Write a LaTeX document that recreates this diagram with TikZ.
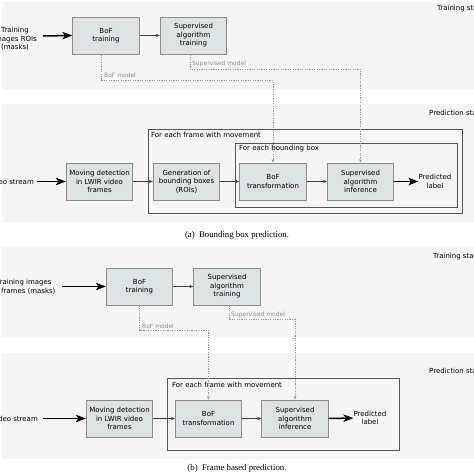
\documentclass[tikz,border=0pt]{standalone}
\usepackage{fontspec}
\setmainfont{DejaVu Sans}
\newfontfamily\capfont{Liberation Serif}
\usetikzlibrary{arrows.meta,calc}
\definecolor{bandgray}{HTML}{F5F5F5}
\definecolor{boxfill}{HTML}{DDE2E2}
\definecolor{boxline}{HTML}{8C8C8C}
\definecolor{frameline}{HTML}{555555}
\definecolor{dashgray}{HTML}{9A9A9A}
\definecolor{labgray}{HTML}{8E8E8E}
\tikzset{
  band/.style={fill=bandgray,draw=none},
  procbox/.style={draw=boxline,fill=boxfill,line width=0.8bp,minimum width=66.5bp,minimum height=37bp,inner sep=1bp,align=center,font=\fontsize{7}{8.6}\selectfont},
  txt/.style={inner sep=0pt,align=center,font=\fontsize{7}{8.8}\selectfont},
  stagelab/.style={inner sep=0pt,anchor=west,font=\fontsize{7}{8.6}\selectfont},
  framebox/.style={draw=frameline,line width=0.9bp},
  framelab/.style={inner sep=0pt,anchor=west,font=\fontsize{7}{8.6}\selectfont},
  thinarrow/.style={draw=black!75,line width=0.6bp,-{Stealth[length=4bp,width=3.2bp]}},
  thickarrow/.style={draw=black,line width=1.5bp,-{Stealth[length=10bp,width=7.5bp,inset=2.5bp]}},
  modelline/.style={draw=dashgray,line width=0.6bp,dash pattern=on 1.2bp off 1.2bp,-{Stealth[length=3.5bp,width=3bp]}},
  modellab/.style={inner sep=0pt,anchor=west,text=labgray,font=\fontsize{6}{7}\selectfont},
  caplab/.style={inner sep=0pt,font=\capfont\fontsize{8.8}{10}\selectfont},
}
\begin{document}
\begin{tikzpicture}[x=1bp,y=-1bp]
\useasboundingbox (0,0) rectangle (474,474);
% ---------- (a) ----------
\fill[band] (2,2) rectangle (474,90);
\fill[band] (2,104) rectangle (474,222);
\node[stagelab] (tsa) at (437,9) {Training stage};
\node[stagelab] (psa) at (429,114) {Prediction stage};
\node[txt] (ina) at (15,39) {Training\\images ROIs\\(masks)};
\node[procbox] (bta) at (106,35.5) {BoF\\training};
\node[procbox] (sta) at (193.5,35.5) {Supervised\\algorithm\\training};
\draw[thickarrow] (43,36) coordinate (ina0) -- (bta.west);
\draw[thinarrow] (bta.east) -- (sta.west);
\draw[framebox] (148,129) rectangle (462,213);
\node[framelab] (ffa) at (151,135) {For each frame with movement};
\draw[framebox] (235,143) rectangle (457,207);
\node[framelab] (fba) at (239,149) {For each bounding box};
\node[txt,anchor=east] (vsa) at (34,181.5) {Video stream};
\node[procbox] (mda) at (99.5,181.5) {Moving detection\\in LWIR video\\frames};
\node[procbox] (gba) at (186.5,181.5) {Generation of\\bounding boxes\\(ROIs)};
\node[procbox] (bxa) at (273,181.5) {BoF\\transformation};
\node[procbox] (sia) at (360.5,181.5) {Supervised\\algorithm\\inference};
\node[txt] (pla) at (435,181.5) {Predicted\\label};
\draw[thickarrow] (vsa.east) ++(3,0) -- (mda.west);
\draw[thinarrow] (mda.east) -- (gba.west);
\draw[thinarrow] (gba.east) -- (bxa.west);
\draw[thinarrow] (bxa.east) -- (sia.west);
\draw[thickarrow] (sia.east) -- (pla.west);
\draw[modelline] ([xshift=-5bp]bta.south) -- ++(0,26) -| (bxa.north);
\node[modellab] (bma) at (104,75) {BoF model};
\draw[modelline] ([xshift=-3.5bp]sta.south) -- ++(0,15) -| (sia.north);
\node[modellab] (sma) at (192,64) {Supervised model};
\node[caplab] (capa) at (237,235) {(a)\ \ Bounding box prediction.};
% ---------- (b) ----------
\fill[band] (2,247) rectangle (474,337);
\fill[band] (2,353) rectangle (474,459);
\node[stagelab] (tsb) at (433,257) {Training stage};
\node[stagelab] (psb) at (429,372) {Prediction stage};
\node[txt] (inb) at (24,286.5) {Training images\\in frames (masks)};
\node[procbox] (btb) at (139.5,286.5) {BoF\\training};
\node[procbox] (stb) at (227,286.5) {Supervised\\algorithm\\training};
\draw[thickarrow] (62,286.5) coordinate (inb0) -- (btb.west);
\draw[thinarrow] (btb.east) -- (stb.west);
\draw[framebox] (167,378) rectangle (399,450);
\node[framelab] (ffb) at (172,385) {For each frame with movement};
\node[txt,anchor=east] (vsb) at (38,418.5) {Video stream};
\node[procbox] (mdb) at (119.5,418.5) {Moving detection\\in LWIR video\\frames};
\node[procbox] (bxb) at (208.5,418.5) {BoF\\transformation};
\node[procbox] (sib) at (295,418.5) {Supervised\\algorithm\\inference};
\node[txt] (plb) at (370,418) {Predicted\\label};
\draw[thickarrow] (vsb.east) ++(5,0) -- (mdb.west);
\draw[thinarrow] (mdb.east) -- (bxb.west);
\draw[thinarrow] (bxb.east) -- (sib.west);
\draw[thickarrow] (sib.east) -- (plb.west);
\draw[modelline] (btb.south) -- ++(0,25) -| (bxb.north);
\node[modellab] (bmb) at (142,326) {BoF model};
\draw[modelline] ([xshift=2bp]stb.south) -- ++(0,14) -| (sib.north);
\node[modellab] (smb) at (231,315) {Supervised model};
\node[caplab] (capb) at (237,468) {(b)\ \ Frame based prediction.};
\end{tikzpicture}
\end{document}
